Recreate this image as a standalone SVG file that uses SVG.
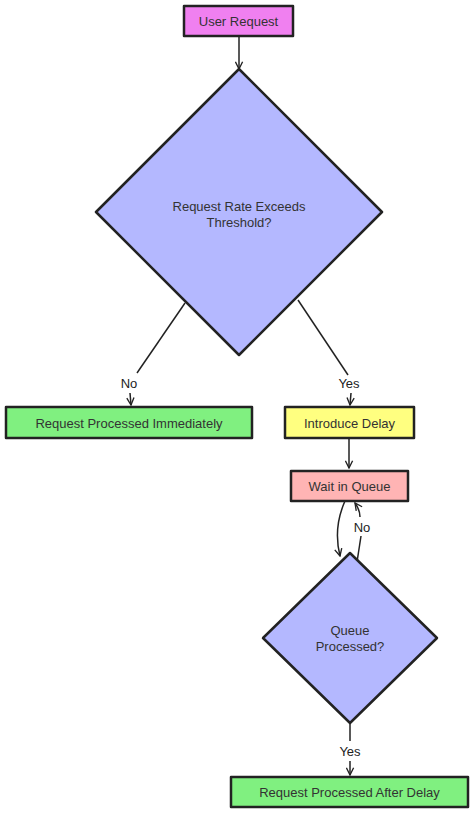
<svg xmlns="http://www.w3.org/2000/svg" width="474" height="813" viewBox="0 0 474 813">
<defs>
<style>
.box{stroke:#222;stroke-width:2.5;stroke-linejoin:round}
.t{font-family:"Liberation Sans",Arial,sans-serif;font-size:13px;fill:#333;text-anchor:middle;dominant-baseline:central}
.lbl{font-family:"Liberation Sans",Arial,sans-serif;font-size:13px;fill:#222;text-anchor:middle;dominant-baseline:central}
.c{fill:none;stroke:#222;stroke-width:1.5}
</style>
<marker id="ah" viewBox="0 0 10 10" refX="9" refY="5" markerWidth="9" markerHeight="9" markerUnits="userSpaceOnUse" orient="auto">
<path d="M1,1 L9,5 L1,9" fill="none" stroke="#222" stroke-width="1.5"/>
</marker>
</defs>
<rect width="474" height="813" fill="#ffffff"/>
<g id="connectors">
<path class="c" d="M239,36 L239,69" marker-end="url(#ah)"/>
<path class="c" d="M185,303 L137,373"/>
<path class="c" d="M130,393 L131,405" marker-end="url(#ah)"/>
<path class="c" d="M298,300 L348,375"/>
<path class="c" d="M351,393 L350,405" marker-end="url(#ah)"/>
<path class="c" d="M349,438 L349,468" marker-end="url(#ah)"/>
<path class="c" d="M345,501 Q333,528 340,556" marker-end="url(#ah)"/>
<path class="c" d="M357,562 L361,536"/>
<path class="c" d="M360,517 Q360,510 355,503" marker-end="url(#ah)"/>
<path class="c" d="M350,723 L350,741"/>
<path class="c" d="M350,761 L350,775" marker-end="url(#ah)"/>
</g>
<g id="labels">
<text class="lbl" x="129" y="383">No</text>
<text class="lbl" x="349" y="383">Yes</text>
<text class="lbl" x="362" y="527">No</text>
<text class="lbl" x="350" y="751">Yes</text>
</g>
<g id="n_user_request">
<rect class="box" x="184" y="6" width="109" height="30" fill="#f080f0"/>
<text class="t" x="238.5" y="21">User Request</text>
</g>
<g id="n_rate_decision">
<polygon class="box" points="239,69 382,212 239,355 96,212" fill="#b4b8ff"/>
<text class="t" x="239" y="206">Request Rate Exceeds</text>
<text class="t" x="239" y="222">Threshold?</text>
</g>
<g id="n_immediate">
<rect class="box" x="6" y="407" width="246" height="31" fill="#80f080"/>
<text class="t" x="129" y="423">Request Processed Immediately</text>
</g>
<g id="n_delay">
<rect class="box" x="285" y="407" width="129" height="31" fill="#ffff80"/>
<text class="t" x="349.5" y="423">Introduce Delay</text>
</g>
<g id="n_queue">
<rect class="box" x="291" y="471" width="117" height="30" fill="#ffb4b4"/>
<text class="t" x="349.5" y="486">Wait in Queue</text>
</g>
<g id="n_queue_decision">
<polygon class="box" points="350,553 437,638 350,723 263,638" fill="#b4b8ff"/>
<text class="t" x="350" y="630">Queue</text>
<text class="t" x="350" y="646">Processed?</text>
</g>
<g id="n_after_delay">
<rect class="box" x="231" y="777" width="237" height="30" fill="#80f080"/>
<text class="t" x="349.5" y="792">Request Processed After Delay</text>
</g>
</svg>
